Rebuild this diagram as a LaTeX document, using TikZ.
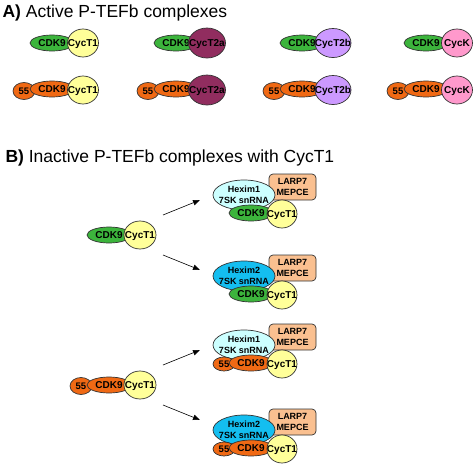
\documentclass[tikz,border=0pt]{standalone}
\usepackage{fontspec}
\setmainfont{Liberation Sans}
\usetikzlibrary{shapes.geometric,arrows.meta}

\definecolor{cdkgreen}{RGB}{60,180,60}
\definecolor{cdkorange}{RGB}{240,105,20}
\definecolor{cyct1}{RGB}{255,255,153}
\definecolor{cyct2a}{RGB}{145,45,95}
\definecolor{cyct2b}{RGB}{204,153,255}
\definecolor{cyck}{RGB}{255,153,204}
\definecolor{hexone}{RGB}{204,255,255}
\definecolor{hextwo}{RGB}{20,190,240}
\definecolor{larp}{RGB}{250,192,144}

\tikzset{
  prot/.style={ellipse, draw=black!80, line width=0.7pt, inner xsep=-12pt, inner ysep=0pt,
    text height=7.2pt, text depth=0pt, font=\bfseries\fontsize{10}{12}\selectfont},
  cdk/.style={prot, minimum width=44pt, minimum height=16pt},
  p55/.style={prot, fill=cdkorange, minimum width=22pt, minimum height=17pt,
    font=\bfseries\fontsize{9.5}{11}\selectfont},
  cyc/.style={prot, minimum width=31pt, minimum height=28pt},
  hexim/.style={ellipse, draw=black!80, line width=0.7pt, inner xsep=-12pt, inner ysep=-2pt,
    minimum width=62pt, minimum height=30pt, align=center, font=\bfseries\fontsize{9}{10.5}\selectfont},
  larpbox/.style={rectangle, rounded corners=4pt, draw=black!80, line width=0.7pt, fill=larp,
    minimum width=47pt, minimum height=26pt, inner sep=0pt, align=center,
    font=\bfseries\fontsize{9}{11}\selectfont},
  arrowto/.style={-{Triangle[length=7pt,width=5.5pt]}, line width=0.6pt}
}

\begin{document}
\begin{tikzpicture}[x=1pt, y=-1pt]
    \useasboundingbox (0,0) rectangle (474,466);

    % A) active complexes
    \node[anchor=base west, font=\fontsize{17.5}{20}\selectfont] (titleA) at (-1,17) {\textbf{A)} Active P-TEFb complexes};
    \foreach \i/\cx/\w/\h/\cname/\ccol in {1/83/31/28/CycT1/cyct1, 2/207/37/30/CycT2a/cyct2a, 3/333/36/29/CycT2b/cyct2b, 4/457/31/28/CycK/cyck} {
        \node[cdk, fill=cdkgreen] (cdkA\i) at (\cx-31,43) {CDK9};
        \node[cyc, fill=\ccol, minimum width=\w pt, minimum height=\h pt] (cycA\i) at (\cx,43) {\cname};
        \node[p55] (ffB\i) at (\cx-59,91) {55};
        \node[cdk, fill=cdkorange] (cdkB\i) at (\cx-31,89) {CDK9};
        \node[cyc, fill=\ccol, minimum width=\w pt, minimum height=\h pt] (cycB\i) at (\cx,90) {\cname};
    }

    % B) inactive complexes
    \node[anchor=base west, font=\fontsize{17.5}{20}\selectfont] (titleB) at (2,162) {\textbf{B)} Inactive P-TEFb complexes with CycT1};

    \node[cdk, fill=cdkgreen] (cdkL1) at (109,235) {CDK9};
    \node[cyc, fill=cyct1, minimum width=32pt] (cycL1) at (140,235) {CycT1};
    \node[p55] (ffL2) at (81,386) {55};
    \node[cdk, fill=cdkorange] (cdkL2) at (109,385) {CDK9};
    \node[cyc, fill=cyct1, minimum width=32pt] (cycL2) at (140,385) {CycT1};

    \foreach \s/\yl in {1/235, 2/385} {
        \coordinate (fromU\s) at (163,\yl-20);
        \coordinate (toU\s) at (200,\yl-35);
        \coordinate (fromD\s) at (163,\yl+20);
        \coordinate (toD\s) at (200,\yl+35);
        \draw[arrowto] (fromU\s) -- (toU\s);
        \draw[arrowto] (fromD\s) -- (toD\s);
    }

    \foreach \k/\yc/\hcol/\hname/\s in {1/214/hexone/Hexim1/1, 2/295/hextwo/Hexim2/1, 3/364/hexone/Hexim1/2, 4/449/hextwo/Hexim2/2} {
        \node[larpbox] (larpR\k) at (292.5,\yc-27) {LARP7\\MEPCE};
        \node[hexim, fill=\hcol] (hexR\k) at (244,\yc-19) {\hname\\7SK snRNA};
        \ifnum\s=1
            \node[cdk, fill=cdkgreen] (cdkR\k) at (251,\yc-1) {CDK9};
        \else
            \node[p55, minimum height=14pt] (ffR\k) at (224,\yc) {55};
            \node[cdk, fill=cdkorange] (cdkR\k) at (251,\yc-1) {CDK9};
        \fi
        \node[cyc, fill=cyct1, minimum width=30pt] (cycR\k) at (282,\yc) {CycT1};
    }
\end{tikzpicture}
\end{document}
